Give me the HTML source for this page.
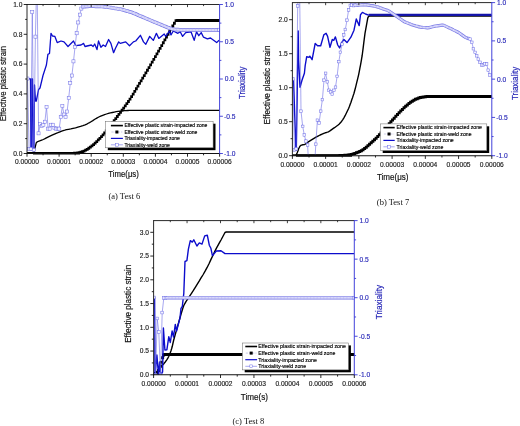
<!DOCTYPE html>
<html><head><meta charset="utf-8"><title>Figure</title>
<style>
html,body{margin:0;padding:0;background:#fff;}
svg{display:block}
.t{font-family:"Liberation Sans",Arial,sans-serif;font-size:6.65px;fill:#1a1a1a;stroke:#1a1a1a;stroke-width:0.15px}
.a{font-family:"Liberation Sans",Arial,sans-serif;font-size:7.8px;fill:#111;stroke:#111;stroke-width:0.18px}
.l{font-family:"Liberation Sans",Arial,sans-serif;font-size:5.05px;fill:#000;stroke:#000;stroke-width:0.15px}
.c{font-family:"Liberation Serif","Times New Roman",serif;font-size:8.5px;fill:#111}
</style></head><body>
<svg width="520" height="426" viewBox="0 0 520 426">
<rect width="520" height="426" fill="#fff"/>
<clipPath id="cpa"><rect x="27" y="4.5" width="192.6" height="149.0"/></clipPath>
<g clip-path="url(#cpa)">
<polyline points="33.5,153.5 34.5,150.0 36.3,142.6 36.5,142.4 36.8,142.2 37.3,141.9 38.0,141.5 39.0,141.1 40.3,140.7 41.7,140.1 43.3,139.5 45.0,138.7 46.9,137.7 48.9,136.7 51.0,135.7 53.2,134.7 55.6,133.6 57.9,132.7 60.0,131.8 61.7,131.1 63.2,130.6 64.8,130.2 66.5,129.7 68.6,129.3 70.8,128.9 73.1,128.4 75.5,127.9 77.9,127.2 80.5,126.4 82.9,125.6 85.1,124.8 86.8,124.1 88.2,123.3 89.5,122.6 91.0,121.7 92.8,120.6 94.8,119.3 96.8,118.1 98.8,117.0 100.7,116.1 102.7,115.3 104.6,114.6 106.5,114.0 108.4,113.4 110.4,112.9 112.4,112.5 114.3,112.1 116.2,111.7 118.1,111.4 120.1,111.1 122.0,110.9 123.9,110.7 125.7,110.6 127.7,110.5 129.8,110.4 132.4,110.4 135.4,110.4 138.1,110.4 140.0,110.4 219.6,110.4" fill="none" stroke="#000" stroke-width="1.3" stroke-linejoin="round" />
<path d="M25.60,152.10H71.20v2.8H25.60zM69.98,152.03h2.8v2.8h-2.8zM71.56,151.96h2.8v2.8h-2.8zM73.15,151.85h2.8v2.8h-2.8zM74.73,151.70h2.8v2.8h-2.8zM76.32,151.49h2.8v2.8h-2.8zM77.90,151.21h2.8v2.8h-2.8zM79.49,150.85h2.8v2.8h-2.8zM81.07,150.32h2.8v2.8h-2.8zM82.66,149.63h2.8v2.8h-2.8zM84.24,148.80h2.8v2.8h-2.8zM85.83,147.89h2.8v2.8h-2.8zM87.41,146.87h2.8v2.8h-2.8zM89.00,145.73h2.8v2.8h-2.8zM90.58,144.49h2.8v2.8h-2.8zM92.17,143.13h2.8v2.8h-2.8zM93.75,141.68h2.8v2.8h-2.8zM95.34,140.15h2.8v2.8h-2.8zM96.92,138.57h2.8v2.8h-2.8zM98.51,136.97h2.8v2.8h-2.8zM100.09,135.29h2.8v2.8h-2.8zM101.68,133.50h2.8v2.8h-2.8zM103.26,131.60h2.8v2.8h-2.8zM104.85,129.62h2.8v2.8h-2.8zM106.43,127.60h2.8v2.8h-2.8zM108.02,125.53h2.8v2.8h-2.8zM109.60,123.45h2.8v2.8h-2.8zM111.19,121.35h2.8v2.8h-2.8zM112.77,119.26h2.8v2.8h-2.8zM114.36,117.18h2.8v2.8h-2.8zM115.94,115.10h2.8v2.8h-2.8zM117.53,113.01h2.8v2.8h-2.8zM119.11,110.90h2.8v2.8h-2.8zM120.70,108.77h2.8v2.8h-2.8zM122.28,106.63h2.8v2.8h-2.8zM123.87,104.49h2.8v2.8h-2.8zM125.45,102.31h2.8v2.8h-2.8zM127.04,100.08h2.8v2.8h-2.8zM128.62,97.75h2.8v2.8h-2.8zM130.21,95.28h2.8v2.8h-2.8zM131.79,92.66h2.8v2.8h-2.8zM133.38,89.99h2.8v2.8h-2.8zM134.96,87.33h2.8v2.8h-2.8zM136.55,84.70h2.8v2.8h-2.8zM138.13,82.07h2.8v2.8h-2.8zM139.72,79.44h2.8v2.8h-2.8zM141.30,76.81h2.8v2.8h-2.8zM142.89,74.16h2.8v2.8h-2.8zM144.47,71.51h2.8v2.8h-2.8zM146.06,68.84h2.8v2.8h-2.8zM147.64,66.14h2.8v2.8h-2.8zM149.23,63.44h2.8v2.8h-2.8zM150.81,60.73h2.8v2.8h-2.8zM152.40,57.97h2.8v2.8h-2.8zM153.98,55.21h2.8v2.8h-2.8zM155.57,52.46h2.8v2.8h-2.8zM157.15,49.69h2.8v2.8h-2.8zM158.74,46.91h2.8v2.8h-2.8zM160.32,44.13h2.8v2.8h-2.8zM161.91,41.35h2.8v2.8h-2.8zM163.49,38.57h2.8v2.8h-2.8zM165.08,35.78h2.8v2.8h-2.8zM166.66,32.99h2.8v2.8h-2.8zM168.25,30.20h2.8v2.8h-2.8zM169.83,27.41h2.8v2.8h-2.8zM171.42,24.62h2.8v2.8h-2.8zM173.00,21.83h2.8v2.8h-2.8zM174.59,19.19h2.8v2.8h-2.8zM176.18,19.10H220.19v2.8H176.18zM217.39,19.10H219.60v2.8H217.39z" fill="#000"/>
<polyline points="27.0,78.9 30.5,78.9 30.8,150.0 31.3,150.0 31.6,79.0 32.5,79.0 33.0,150.0 34.0,148.0 34.5,85.0 35.5,101.0 36.3,101.0 38.6,89.5 40.0,88.0 43.0,75.5 46.4,65.0 47.9,54.3 49.5,53.5 51.0,33.3 52.5,36.0 54.9,36.4 57.2,42.6 61.0,41.0 64.0,41.9 68.0,46.5 73.5,41.0 75.8,45.7 81.0,45.0 83.6,43.4 85.0,46.5 91.3,45.0 93.1,46.5 94.7,44.0 97.0,49.6 98.5,41.0 100.9,47.3 103.2,45.0 105.5,46.5 108.6,39.5 110.9,43.4 113.6,52.7 115.6,48.0 118.7,41.9 120.2,43.4 125.7,41.9 129.5,45.7 133.4,41.9 135.7,41.0 140.4,35.3 143.5,41.9 145.8,44.2 149.7,36.4 153.3,40.4 156.4,33.3 158.8,38.4 164.2,34.0 165.7,36.4 169.4,31.0 171.0,34.9 173.3,31.0 177.9,33.3 180.2,31.8 182.6,36.4 185.7,32.6 191.0,31.8 194.2,40.3 196.5,31.8 198.8,35.7 201.2,32.6 203.5,37.2 207.4,38.8 210.5,38.0 213.6,40.3 216.7,42.6 219.0,40.3" fill="none" stroke="#0c0ccc" stroke-width="1.3" stroke-linejoin="round" />
<polyline points="27.5,78.5 29.1,149.0 30.7,149.0 32.3,12.2 33.8,150.0 35.4,36.6 37.0,-30.0 38.6,133.3 40.2,124.0 41.8,126.0 43.4,124.8 44.9,121.7 46.5,107.0 48.1,128.7 49.7,128.7 51.3,124.8 52.9,124.8 54.4,127.9 56.0,128.7 57.6,128.7 59.2,128.7 60.8,117.0 62.4,106.0 64.0,114.5 65.5,117.0 67.1,111.5 68.7,98.0 70.3,83.0 71.9,75.5 73.5,61.3 75.0,47.0 76.6,33.3 78.2,22.5 79.8,14.7 81.4,8.5 83.0,6.5 84.6,6.4 86.1,6.4 87.7,6.3 89.3,6.2 90.9,6.2 92.5,6.2 94.1,6.2 95.7,6.3 97.2,6.3 98.8,6.3 100.4,6.3 102.0,6.5 103.6,6.7 105.2,6.8 106.7,7.0 108.3,7.2 109.9,7.5 111.5,7.7 113.1,8.0 114.7,8.3 116.3,8.5 117.8,8.8 119.4,9.0 121.0,9.3 122.6,9.8 124.2,10.2 125.8,10.7 127.4,11.1 128.9,11.6 130.5,12.0 132.1,12.5 133.7,13.2 135.3,13.8 136.9,14.5 138.4,15.2 140.0,15.9 141.6,16.5 143.2,17.2 144.8,17.9 146.4,18.6 148.0,19.3 149.5,19.9 151.1,20.6 152.7,21.3 154.3,21.9 155.9,22.6 157.5,23.2 159.1,23.9 160.6,24.5 162.2,25.2 163.8,25.9 165.4,26.5 167.0,27.2 168.6,27.9 170.2,28.3 171.7,28.8 173.3,29.2 174.9,29.6 176.5,29.7 178.1,29.7 179.7,29.8 181.2,29.8 182.8,29.8 184.4,29.8 186.0,29.8 187.6,29.8 189.2,29.8 190.8,29.8 192.3,29.8 193.9,29.8 195.5,29.8 197.1,29.8 198.7,29.8 200.3,29.8 201.9,29.8 203.4,29.8 205.0,29.8 206.6,29.8 208.2,29.8 209.8,29.8 211.4,29.8 212.9,29.8 214.5,29.8 216.1,29.8 217.7,29.8 219.3,29.8" fill="none" stroke="#6c6ce6" stroke-width="0.6" stroke-linejoin="round" />
<rect x="25.9" y="77.0" width="3.1" height="3.1" fill="#f4f4ff" stroke="#6c6ce6" stroke-width="0.5"/><rect x="27.5" y="147.4" width="3.1" height="3.1" fill="#f4f4ff" stroke="#6c6ce6" stroke-width="0.5"/><rect x="29.1" y="147.4" width="3.1" height="3.1" fill="#f4f4ff" stroke="#6c6ce6" stroke-width="0.5"/><rect x="30.7" y="10.6" width="3.1" height="3.1" fill="#f4f4ff" stroke="#6c6ce6" stroke-width="0.5"/><rect x="32.3" y="148.4" width="3.1" height="3.1" fill="#f4f4ff" stroke="#6c6ce6" stroke-width="0.5"/><rect x="33.9" y="35.1" width="3.1" height="3.1" fill="#f4f4ff" stroke="#6c6ce6" stroke-width="0.5"/><rect x="35.5" y="-31.6" width="3.1" height="3.1" fill="#f4f4ff" stroke="#6c6ce6" stroke-width="0.5"/><rect x="37.0" y="131.8" width="3.1" height="3.1" fill="#f4f4ff" stroke="#6c6ce6" stroke-width="0.5"/><rect x="38.6" y="122.5" width="3.1" height="3.1" fill="#f4f4ff" stroke="#6c6ce6" stroke-width="0.5"/><rect x="40.2" y="124.5" width="3.1" height="3.1" fill="#f4f4ff" stroke="#6c6ce6" stroke-width="0.5"/><rect x="41.8" y="123.2" width="3.1" height="3.1" fill="#f4f4ff" stroke="#6c6ce6" stroke-width="0.5"/><rect x="43.4" y="120.2" width="3.1" height="3.1" fill="#f4f4ff" stroke="#6c6ce6" stroke-width="0.5"/><rect x="45.0" y="105.5" width="3.1" height="3.1" fill="#f4f4ff" stroke="#6c6ce6" stroke-width="0.5"/><rect x="46.6" y="127.1" width="3.1" height="3.1" fill="#f4f4ff" stroke="#6c6ce6" stroke-width="0.5"/><rect x="48.1" y="127.1" width="3.1" height="3.1" fill="#f4f4ff" stroke="#6c6ce6" stroke-width="0.5"/><rect x="49.7" y="123.2" width="3.1" height="3.1" fill="#f4f4ff" stroke="#6c6ce6" stroke-width="0.5"/><rect x="51.3" y="123.2" width="3.1" height="3.1" fill="#f4f4ff" stroke="#6c6ce6" stroke-width="0.5"/><rect x="52.9" y="126.4" width="3.1" height="3.1" fill="#f4f4ff" stroke="#6c6ce6" stroke-width="0.5"/><rect x="54.5" y="127.1" width="3.1" height="3.1" fill="#f4f4ff" stroke="#6c6ce6" stroke-width="0.5"/><rect x="56.1" y="127.1" width="3.1" height="3.1" fill="#f4f4ff" stroke="#6c6ce6" stroke-width="0.5"/><rect x="57.7" y="127.1" width="3.1" height="3.1" fill="#f4f4ff" stroke="#6c6ce6" stroke-width="0.5"/><rect x="59.2" y="115.5" width="3.1" height="3.1" fill="#f4f4ff" stroke="#6c6ce6" stroke-width="0.5"/><rect x="60.8" y="104.5" width="3.1" height="3.1" fill="#f4f4ff" stroke="#6c6ce6" stroke-width="0.5"/><rect x="62.4" y="113.0" width="3.1" height="3.1" fill="#f4f4ff" stroke="#6c6ce6" stroke-width="0.5"/><rect x="64.0" y="115.5" width="3.1" height="3.1" fill="#f4f4ff" stroke="#6c6ce6" stroke-width="0.5"/><rect x="65.6" y="110.0" width="3.1" height="3.1" fill="#f4f4ff" stroke="#6c6ce6" stroke-width="0.5"/><rect x="67.2" y="96.5" width="3.1" height="3.1" fill="#f4f4ff" stroke="#6c6ce6" stroke-width="0.5"/><rect x="68.7" y="81.5" width="3.1" height="3.1" fill="#f4f4ff" stroke="#6c6ce6" stroke-width="0.5"/><rect x="70.3" y="74.0" width="3.1" height="3.1" fill="#f4f4ff" stroke="#6c6ce6" stroke-width="0.5"/><rect x="71.9" y="59.8" width="3.1" height="3.1" fill="#f4f4ff" stroke="#6c6ce6" stroke-width="0.5"/><rect x="73.5" y="45.5" width="3.1" height="3.1" fill="#f4f4ff" stroke="#6c6ce6" stroke-width="0.5"/><rect x="75.1" y="31.7" width="3.1" height="3.1" fill="#f4f4ff" stroke="#6c6ce6" stroke-width="0.5"/><rect x="76.7" y="20.9" width="3.1" height="3.1" fill="#f4f4ff" stroke="#6c6ce6" stroke-width="0.5"/><rect x="78.3" y="13.1" width="3.1" height="3.1" fill="#f4f4ff" stroke="#6c6ce6" stroke-width="0.5"/><rect x="79.8" y="7.0" width="3.1" height="3.1" fill="#f4f4ff" stroke="#6c6ce6" stroke-width="0.5"/><rect x="81.4" y="5.0" width="3.1" height="3.1" fill="#f4f4ff" stroke="#6c6ce6" stroke-width="0.5"/><rect x="83.0" y="4.9" width="3.1" height="3.1" fill="#f4f4ff" stroke="#6c6ce6" stroke-width="0.5"/>
<polyline points="84.6,6.4 86.1,6.4 87.7,6.3 89.3,6.2 90.9,6.2 92.5,6.2 94.1,6.2 95.7,6.3 97.2,6.3 98.8,6.3 100.4,6.3 102.0,6.5 103.6,6.7 105.2,6.8 106.7,7.0 108.3,7.2 109.9,7.5 111.5,7.7 113.1,8.0 114.7,8.3 116.3,8.5 117.8,8.8 119.4,9.0 121.0,9.3 122.6,9.8 124.2,10.2 125.8,10.7 127.4,11.1 128.9,11.6 130.5,12.0 132.1,12.5 133.7,13.2 135.3,13.8 136.9,14.5 138.4,15.2 140.0,15.9 141.6,16.5 143.2,17.2 144.8,17.9 146.4,18.6 148.0,19.3 149.5,19.9 151.1,20.6 152.7,21.3 154.3,21.9 155.9,22.6 157.5,23.2 159.1,23.9 160.6,24.5 162.2,25.2 163.8,25.9 165.4,26.5 167.0,27.2 168.6,27.9 170.2,28.3 171.7,28.8 173.3,29.2 174.9,29.6 176.5,29.7 178.1,29.7 179.7,29.8 181.2,29.8 182.8,29.8 184.4,29.8 186.0,29.8 187.6,29.8 189.2,29.8 190.8,29.8 192.3,29.8 193.9,29.8 195.5,29.8 197.1,29.8 198.7,29.8 200.3,29.8 201.9,29.8 203.4,29.8 205.0,29.8 206.6,29.8 208.2,29.8 209.8,29.8 211.4,29.8 212.9,29.8 214.5,29.8 216.1,29.8 217.7,29.8 219.3,29.8" fill="none" stroke="#7474e4" stroke-width="3.7" stroke-linejoin="round" stroke-linecap="butt"/>
<polyline points="84.6,6.4 86.1,6.4 87.7,6.3 89.3,6.2 90.9,6.2 92.5,6.2 94.1,6.2 95.7,6.3 97.2,6.3 98.8,6.3 100.4,6.3 102.0,6.5 103.6,6.7 105.2,6.8 106.7,7.0 108.3,7.2 109.9,7.5 111.5,7.7 113.1,8.0 114.7,8.3 116.3,8.5 117.8,8.8 119.4,9.0 121.0,9.3 122.6,9.8 124.2,10.2 125.8,10.7 127.4,11.1 128.9,11.6 130.5,12.0 132.1,12.5 133.7,13.2 135.3,13.8 136.9,14.5 138.4,15.2 140.0,15.9 141.6,16.5 143.2,17.2 144.8,17.9 146.4,18.6 148.0,19.3 149.5,19.9 151.1,20.6 152.7,21.3 154.3,21.9 155.9,22.6 157.5,23.2 159.1,23.9 160.6,24.5 162.2,25.2 163.8,25.9 165.4,26.5 167.0,27.2 168.6,27.9 170.2,28.3 171.7,28.8 173.3,29.2 174.9,29.6 176.5,29.7 178.1,29.7 179.7,29.8 181.2,29.8 182.8,29.8 184.4,29.8 186.0,29.8 187.6,29.8 189.2,29.8 190.8,29.8 192.3,29.8 193.9,29.8 195.5,29.8 197.1,29.8 198.7,29.8 200.3,29.8 201.9,29.8 203.4,29.8 205.0,29.8 206.6,29.8 208.2,29.8 209.8,29.8 211.4,29.8 212.9,29.8 214.5,29.8 216.1,29.8 217.7,29.8 219.3,29.8" fill="none" stroke="#d8d8fa" stroke-width="2.3" stroke-linejoin="round" stroke-linecap="butt"/>
<path d="M84.6,4.9v3.1M87.7,4.7v3.1M90.9,4.7v3.1M94.1,4.7v3.1M97.2,4.7v3.1M100.4,4.8v3.1M103.6,5.1v3.1M106.7,5.4v3.1M109.9,5.9v3.1M113.1,6.5v3.1M116.3,7.0v3.1M119.4,7.5v3.1M122.6,8.2v3.1M125.8,9.1v3.1M128.9,10.0v3.1M132.1,10.9v3.1M135.3,12.3v3.1M138.4,13.6v3.1M141.6,15.0v3.1M144.8,16.3v3.1M148.0,17.7v3.1M151.1,19.1v3.1M154.3,20.4v3.1M157.5,21.7v3.1M160.6,23.0v3.1M163.8,24.3v3.1M167.0,25.7v3.1M170.2,26.8v3.1M173.3,27.6v3.1M176.5,28.1v3.1M179.7,28.2v3.1M182.8,28.2v3.1M186.0,28.2v3.1M189.2,28.2v3.1M192.3,28.2v3.1M195.5,28.2v3.1M198.7,28.2v3.1M201.9,28.2v3.1M205.0,28.2v3.1M208.2,28.2v3.1M211.4,28.2v3.1M214.5,28.2v3.1M217.7,28.2v3.1" stroke="#a8a8f0" stroke-width="0.35" fill="none"/>
<rect x="217.7" y="28.2" width="3.1" height="3.1" fill="#f4f4ff" stroke="#6c6ce6" stroke-width="0.5"/>
</g>
<path d="M33,153.5H80" stroke="#000" stroke-width="2.2" fill="none"/>
<path d="M27,4.5H219.6" stroke="#111" stroke-width="0.9" fill="none"/>
<path d="M27,4.0V154.0" stroke="#111" stroke-width="0.9" fill="none"/>
<path d="M26.5,153.5H220.1" stroke="#111" stroke-width="1.1" fill="none"/>
<path d="M219.6,4.0V154.0" stroke="#3838d8" stroke-width="0.95" fill="none"/>
<path d="M27.00,153.5v3.2M43.05,153.5v1.8M59.10,153.5v3.2M75.15,153.5v1.8M91.20,153.5v3.2M107.25,153.5v1.8M123.30,153.5v3.2M139.35,153.5v1.8M155.40,153.5v3.2M171.45,153.5v1.8M187.50,153.5v3.2M203.55,153.5v1.8M219.60,153.5v3.2" stroke="#111" stroke-width="0.9" fill="none"/>
<path d="M43.05,4.5v1.6M59.10,4.5v2.6M75.15,4.5v1.6M91.20,4.5v2.6M107.25,4.5v1.6M123.30,4.5v2.6M139.35,4.5v1.6M155.40,4.5v2.6M171.45,4.5v1.6M187.50,4.5v2.6M203.55,4.5v1.6" stroke="#111" stroke-width="0.8" fill="none"/>
<text x="27.00" y="164.4" class="t" text-anchor="middle">0.00000</text>
<text x="59.10" y="164.4" class="t" text-anchor="middle">0.00001</text>
<text x="91.20" y="164.4" class="t" text-anchor="middle">0.00002</text>
<text x="123.30" y="164.4" class="t" text-anchor="middle">0.00003</text>
<text x="155.40" y="164.4" class="t" text-anchor="middle">0.00004</text>
<text x="187.50" y="164.4" class="t" text-anchor="middle">0.00005</text>
<text x="219.60" y="164.4" class="t" text-anchor="middle">0.00006</text>
<text x="22.4" y="155.85" class="t" text-anchor="end">0.0</text>
<text x="22.4" y="126.05" class="t" text-anchor="end">0.2</text>
<text x="22.4" y="96.25" class="t" text-anchor="end">0.4</text>
<text x="22.4" y="66.45" class="t" text-anchor="end">0.6</text>
<text x="22.4" y="36.65" class="t" text-anchor="end">0.8</text>
<text x="22.4" y="6.85" class="t" text-anchor="end">1.0</text>
<path d="M27,153.50h-3.3M27,123.70h-3.3M27,93.90h-3.3M27,64.10h-3.3M27,34.30h-3.3M27,4.50h-3.3M27,138.60h-1.8M27,108.80h-1.8M27,79.00h-1.8M27,49.20h-1.8M27,19.40h-1.8" stroke="#111" stroke-width="0.9" fill="none"/>
<text x="224.8" y="6.85" class="t" style="fill:#2828b8;stroke:#2828b8">1.0</text>
<text x="224.8" y="44.10" class="t" style="fill:#2828b8;stroke:#2828b8">0.5</text>
<text x="224.8" y="81.35" class="t" style="fill:#2828b8;stroke:#2828b8">0.0</text>
<text x="224.0" y="118.60" class="t" style="fill:#2828b8;stroke:#2828b8">-0.5</text>
<text x="224.0" y="155.85" class="t" style="fill:#2828b8;stroke:#2828b8">-1.0</text>
<path d="M219.6,4.50h3.3M219.6,41.75h3.3M219.6,79.00h3.3M219.6,116.25h3.3M219.6,153.50h3.3M219.6,23.12h1.8M219.6,60.38h1.8M219.6,97.62h1.8M219.6,134.88h1.8" stroke="#3838d8" stroke-width="0.9" fill="none"/>
<text x="123.6" y="176.8" class="a" style="font-size:8.2px" text-anchor="middle" textLength="30.5" lengthAdjust="spacingAndGlyphs">Time(μs)</text>
<text transform="translate(6.3,83.6) rotate(-90)" class="a" style="font-size:8.2px" text-anchor="middle" textLength="75.5" lengthAdjust="spacingAndGlyphs">Effective plastic strain</text>
<text transform="translate(245.2,82.8) rotate(-90)" class="a" style="font-size:8.2px;fill:#2828b8;stroke:#2828b8" text-anchor="middle" textLength="32.5" lengthAdjust="spacingAndGlyphs">Triaxiality</text>
<text x="124.3" y="198.7" class="c" text-anchor="middle">(a) Test 6</text>
<rect x="107.80000000000001" y="123.7" width="107.7" height="26.5" fill="#000"/>
<rect x="105.4" y="121.3" width="107.7" height="26.5" fill="#fff" stroke="#666" stroke-width="0.5"/>
<path d="M110.9,125.6H122.9" stroke="#000" stroke-width="1.6"/>
<path d="M111.4,132.0H122.4" stroke="#99c" stroke-width="0.5" stroke-dasharray="2.2,1"/>
<rect x="115.4" y="130.5" width="3" height="3" fill="#000"/>
<path d="M110.9,138.4H122.9" stroke="#0c0ccc" stroke-width="1.2"/>
<path d="M110.9,144.8H122.9" stroke="#6c6ce6" stroke-width="0.6"/>
<rect x="115.5" y="143.4" width="2.8" height="2.8" fill="#fff" stroke="#6c6ce6" stroke-width="0.5"/>
<text x="124.4" y="127.41" class="l" style="font-size:5.03px" textLength="82.9" lengthAdjust="spacingAndGlyphs">Effective plastic strain-impacted zone</text>
<text x="124.4" y="133.81" class="l" style="font-size:5.03px" textLength="72.9" lengthAdjust="spacingAndGlyphs">Effective plastic strain-weld zone</text>
<text x="124.4" y="140.21" class="l" style="font-size:5.03px" textLength="55.4" lengthAdjust="spacingAndGlyphs">Triaxiality-impacted zone</text>
<text x="124.4" y="146.61" class="l" style="font-size:5.03px" textLength="45.4" lengthAdjust="spacingAndGlyphs">Triaxiality-weld zone</text>
<clipPath id="cpb"><rect x="292.4" y="2.6" width="199.40000000000003" height="153.1"/></clipPath>
<g clip-path="url(#cpb)">
<polyline points="295.9,155.7 296.2,155.0 296.6,154.1 297.1,153.0 297.5,152.0 297.9,151.0 298.3,149.9 298.6,148.9 299.0,148.0 299.4,147.3 299.7,146.7 300.1,146.1 300.5,145.7 300.9,145.4 301.4,145.1 301.9,145.0 302.5,144.8 303.1,144.7 303.8,144.6 304.5,144.5 305.2,144.2 305.8,143.8 306.4,143.3 307.2,142.7 308.3,141.9 309.9,140.9 311.9,139.7 314.0,138.4 316.0,137.2 318.0,136.1 320.1,135.0 322.1,134.1 323.8,133.3 325.2,132.8 326.3,132.5 327.3,132.2 328.4,131.8 329.5,131.2 330.6,130.4 331.7,129.6 333.0,128.7 334.5,127.7 336.1,126.5 337.8,125.3 339.3,124.0 340.6,122.6 341.7,121.2 342.8,119.6 343.9,117.8 345.1,115.7 346.3,113.3 347.5,110.8 348.6,108.5 349.5,106.3 350.2,104.3 351.0,102.2 351.7,100.0 352.5,97.8 353.2,95.6 354.0,93.2 354.8,90.3 355.7,86.8 356.7,82.7 357.7,78.6 358.6,74.8 359.3,71.4 359.9,68.2 360.5,65.2 361.0,62.4 361.4,60.1 361.7,58.2 362.1,56.0 362.5,53.0 363.1,48.3 363.8,42.6 364.5,37.1 365.0,33.3 367.8,17.8 368.6,16.4 369.6,16.0 491.8,16.0" fill="none" stroke="#000" stroke-width="1.4" stroke-linejoin="round" />
<path d="M290.90,154.20H339.88v3.0H290.90zM338.52,154.12h3.0v3.0h-3.0zM340.16,154.05h3.0v3.0h-3.0zM341.80,153.97h3.0v3.0h-3.0zM343.44,153.87h3.0v3.0h-3.0zM345.09,153.74h3.0v3.0h-3.0zM346.73,153.57h3.0v3.0h-3.0zM348.37,153.30h3.0v3.0h-3.0zM350.01,152.92h3.0v3.0h-3.0zM351.65,152.45h3.0v3.0h-3.0zM353.30,151.92h3.0v3.0h-3.0zM354.94,151.32h3.0v3.0h-3.0zM356.58,150.66h3.0v3.0h-3.0zM358.22,149.97h3.0v3.0h-3.0zM359.86,149.19h3.0v3.0h-3.0zM361.51,148.21h3.0v3.0h-3.0zM363.15,147.04h3.0v3.0h-3.0zM364.79,145.72h3.0v3.0h-3.0zM366.43,144.31h3.0v3.0h-3.0zM368.07,142.82h3.0v3.0h-3.0zM369.72,141.31h3.0v3.0h-3.0zM371.36,139.77h3.0v3.0h-3.0zM373.00,138.23h3.0v3.0h-3.0zM374.64,136.64h3.0v3.0h-3.0zM376.28,135.01h3.0v3.0h-3.0zM377.93,133.33h3.0v3.0h-3.0zM379.57,131.60h3.0v3.0h-3.0zM381.21,129.80h3.0v3.0h-3.0zM382.85,127.92h3.0v3.0h-3.0zM384.49,126.01h3.0v3.0h-3.0zM386.14,124.10h3.0v3.0h-3.0zM387.78,122.21h3.0v3.0h-3.0zM389.42,120.34h3.0v3.0h-3.0zM391.06,118.48h3.0v3.0h-3.0zM392.70,116.63h3.0v3.0h-3.0zM394.35,114.80h3.0v3.0h-3.0zM395.99,113.03h3.0v3.0h-3.0zM397.63,111.30h3.0v3.0h-3.0zM399.27,109.60h3.0v3.0h-3.0zM400.91,107.94h3.0v3.0h-3.0zM402.56,106.34h3.0v3.0h-3.0zM404.20,104.85h3.0v3.0h-3.0zM405.84,103.44h3.0v3.0h-3.0zM407.48,102.11h3.0v3.0h-3.0zM409.12,100.84h3.0v3.0h-3.0zM410.77,99.70h3.0v3.0h-3.0zM412.41,98.71h3.0v3.0h-3.0zM414.05,97.86h3.0v3.0h-3.0zM415.69,97.14h3.0v3.0h-3.0zM417.33,96.56h3.0v3.0h-3.0zM418.98,96.10h3.0v3.0h-3.0zM420.62,95.71h3.0v3.0h-3.0zM422.26,95.41h3.0v3.0h-3.0zM423.90,95.19h3.0v3.0h-3.0zM425.54,95.09h3.0v3.0h-3.0zM427.19,95.05h3.0v3.0h-3.0zM428.83,95.02h3.0v3.0h-3.0zM430.47,94.99h3.0v3.0h-3.0zM432.11,94.97H438.40v3.0H432.11zM437.04,94.99H492.58v3.0H437.04zM489.58,95.00H491.80v3.0H489.58z" fill="#000"/>
<polyline points="292.4,78.7 293.5,78.7 295.9,150.0 296.3,150.0 298.2,31.0 298.6,60.0 300.0,87.2 302.0,80.2 304.4,73.3 305.2,65.5 306.7,56.6 309.0,57.4 309.8,56.2 312.1,59.7 315.2,43.4 317.6,45.7 320.7,45.7 323.8,34.9 326.1,33.3 327.6,36.4 330.0,47.3 332.3,39.5 333.8,40.3 335.4,36.9 337.7,45.0 339.6,48.0 341.6,42.6 343.9,39.5 347.0,42.6 350.9,37.2 354.0,30.2 356.3,19.0 359.2,25.6 360.5,14.7 362.4,12.4 365.5,14.0 368.6,15.2" fill="none" stroke="#0c0ccc" stroke-width="1.4" stroke-linejoin="round" />
<polyline points="368.6,14.8 491.8,14.8" fill="none" stroke="#1414a8" stroke-width="2.3" stroke-linejoin="round" />
<polyline points="292.8,79.0 294.4,150.0 296.1,148.8 297.7,5.9 299.4,-30.0 301.0,111.2 302.7,126.4 304.3,134.9 305.9,141.1 307.6,145.0 309.2,175.0 310.9,190.0 312.5,190.0 314.1,175.0 315.8,144.2 317.4,120.2 319.1,123.0 320.7,111.2 322.4,99.6 324.0,80.2 325.6,73.3 327.3,81.8 328.9,90.3 330.6,91.9 332.2,94.2 333.9,90.3 335.5,87.2 337.1,76.4 338.8,61.6 340.4,52.3 342.1,44.2 343.7,34.9 345.3,29.5 347.0,20.2 348.6,10.0 350.3,5.4 351.9,5.0 353.6,5.6 355.2,4.8 356.8,5.3 358.5,5.1 360.1,5.0 361.8,4.9 363.4,4.9 365.0,4.8 366.7,4.9 368.3,5.1 370.0,5.4 371.6,5.6 373.3,5.9 374.9,6.3 376.5,6.7 378.2,7.1 379.8,7.7 381.5,8.3 383.1,8.9 384.8,9.5 386.4,10.0 388.0,10.6 389.7,11.5 391.3,12.7 393.0,13.8 394.6,15.0 396.2,16.1 397.9,17.3 399.5,18.4 401.2,19.5 402.8,20.7 404.5,21.8 406.1,22.4 407.7,23.1 409.4,23.7 411.0,24.4 412.7,25.0 414.3,25.5 415.9,26.0 417.6,26.4 419.2,26.9 420.9,27.2 422.5,27.4 424.2,27.5 425.8,27.7 427.4,27.9 429.1,27.6 430.7,27.2 432.4,26.8 434.0,26.4 435.7,26.0 437.3,25.8 438.9,25.6 440.6,25.4 442.2,25.2 443.9,25.4 445.5,26.1 447.1,26.9 448.8,27.7 450.4,28.4 452.1,29.2 453.7,30.1 455.4,30.9 457.0,31.7 458.6,32.5 460.3,33.7 461.9,34.9 463.6,36.1 465.2,37.3 466.9,37.9 468.5,38.5 470.1,39.1 471.8,42.3 473.4,48.7 475.1,52.4 476.7,55.8 478.3,59.1 480.0,62.3 481.6,65.0 483.3,65.3 484.9,63.8 486.6,64.0 488.2,70.2 489.8,75.0" fill="none" stroke="#6c6ce6" stroke-width="0.6" stroke-linejoin="round" />
<rect x="291.5" y="77.7" width="2.6" height="2.6" fill="#f4f4ff" stroke="#6c6ce6" stroke-width="0.5"/><rect x="293.1" y="148.7" width="2.6" height="2.6" fill="#f4f4ff" stroke="#6c6ce6" stroke-width="0.5"/><rect x="294.8" y="147.5" width="2.6" height="2.6" fill="#f4f4ff" stroke="#6c6ce6" stroke-width="0.5"/><rect x="296.4" y="4.6" width="2.6" height="2.6" fill="#f4f4ff" stroke="#6c6ce6" stroke-width="0.5"/><rect x="298.1" y="-31.3" width="2.6" height="2.6" fill="#f4f4ff" stroke="#6c6ce6" stroke-width="0.5"/><rect x="299.7" y="109.9" width="2.6" height="2.6" fill="#f4f4ff" stroke="#6c6ce6" stroke-width="0.5"/><rect x="301.4" y="125.1" width="2.6" height="2.6" fill="#f4f4ff" stroke="#6c6ce6" stroke-width="0.5"/><rect x="303.0" y="133.6" width="2.6" height="2.6" fill="#f4f4ff" stroke="#6c6ce6" stroke-width="0.5"/><rect x="304.6" y="139.8" width="2.6" height="2.6" fill="#f4f4ff" stroke="#6c6ce6" stroke-width="0.5"/><rect x="306.3" y="143.7" width="2.6" height="2.6" fill="#f4f4ff" stroke="#6c6ce6" stroke-width="0.5"/><rect x="307.9" y="173.7" width="2.6" height="2.6" fill="#f4f4ff" stroke="#6c6ce6" stroke-width="0.5"/><rect x="309.6" y="188.7" width="2.6" height="2.6" fill="#f4f4ff" stroke="#6c6ce6" stroke-width="0.5"/><rect x="311.2" y="188.7" width="2.6" height="2.6" fill="#f4f4ff" stroke="#6c6ce6" stroke-width="0.5"/><rect x="312.8" y="173.7" width="2.6" height="2.6" fill="#f4f4ff" stroke="#6c6ce6" stroke-width="0.5"/><rect x="314.5" y="142.9" width="2.6" height="2.6" fill="#f4f4ff" stroke="#6c6ce6" stroke-width="0.5"/><rect x="316.1" y="118.9" width="2.6" height="2.6" fill="#f4f4ff" stroke="#6c6ce6" stroke-width="0.5"/><rect x="317.8" y="121.7" width="2.6" height="2.6" fill="#f4f4ff" stroke="#6c6ce6" stroke-width="0.5"/><rect x="319.4" y="109.9" width="2.6" height="2.6" fill="#f4f4ff" stroke="#6c6ce6" stroke-width="0.5"/><rect x="321.1" y="98.3" width="2.6" height="2.6" fill="#f4f4ff" stroke="#6c6ce6" stroke-width="0.5"/><rect x="322.7" y="78.9" width="2.6" height="2.6" fill="#f4f4ff" stroke="#6c6ce6" stroke-width="0.5"/><rect x="324.3" y="72.0" width="2.6" height="2.6" fill="#f4f4ff" stroke="#6c6ce6" stroke-width="0.5"/><rect x="326.0" y="80.5" width="2.6" height="2.6" fill="#f4f4ff" stroke="#6c6ce6" stroke-width="0.5"/><rect x="327.6" y="89.0" width="2.6" height="2.6" fill="#f4f4ff" stroke="#6c6ce6" stroke-width="0.5"/><rect x="329.3" y="90.6" width="2.6" height="2.6" fill="#f4f4ff" stroke="#6c6ce6" stroke-width="0.5"/><rect x="330.9" y="92.9" width="2.6" height="2.6" fill="#f4f4ff" stroke="#6c6ce6" stroke-width="0.5"/><rect x="332.6" y="89.0" width="2.6" height="2.6" fill="#f4f4ff" stroke="#6c6ce6" stroke-width="0.5"/><rect x="334.2" y="85.9" width="2.6" height="2.6" fill="#f4f4ff" stroke="#6c6ce6" stroke-width="0.5"/><rect x="335.8" y="75.1" width="2.6" height="2.6" fill="#f4f4ff" stroke="#6c6ce6" stroke-width="0.5"/><rect x="337.5" y="60.3" width="2.6" height="2.6" fill="#f4f4ff" stroke="#6c6ce6" stroke-width="0.5"/><rect x="339.1" y="51.0" width="2.6" height="2.6" fill="#f4f4ff" stroke="#6c6ce6" stroke-width="0.5"/><rect x="340.8" y="42.9" width="2.6" height="2.6" fill="#f4f4ff" stroke="#6c6ce6" stroke-width="0.5"/><rect x="342.4" y="33.6" width="2.6" height="2.6" fill="#f4f4ff" stroke="#6c6ce6" stroke-width="0.5"/><rect x="344.0" y="28.2" width="2.6" height="2.6" fill="#f4f4ff" stroke="#6c6ce6" stroke-width="0.5"/><rect x="345.7" y="18.9" width="2.6" height="2.6" fill="#f4f4ff" stroke="#6c6ce6" stroke-width="0.5"/><rect x="347.3" y="8.7" width="2.6" height="2.6" fill="#f4f4ff" stroke="#6c6ce6" stroke-width="0.5"/><rect x="349.0" y="4.1" width="2.6" height="2.6" fill="#f4f4ff" stroke="#6c6ce6" stroke-width="0.5"/><rect x="350.6" y="3.7" width="2.6" height="2.6" fill="#f4f4ff" stroke="#6c6ce6" stroke-width="0.5"/><rect x="352.3" y="4.3" width="2.6" height="2.6" fill="#f4f4ff" stroke="#6c6ce6" stroke-width="0.5"/>
<polyline points="353.6,5.6 355.2,4.8 356.8,5.3 358.5,5.1 360.1,5.0 361.8,4.9 363.4,4.9 365.0,4.8 366.7,4.9 368.3,5.1 370.0,5.4 371.6,5.6 373.3,5.9 374.9,6.3 376.5,6.7 378.2,7.1 379.8,7.7 381.5,8.3 383.1,8.9 384.8,9.5 386.4,10.0 388.0,10.6 389.7,11.5 391.3,12.7 393.0,13.8 394.6,15.0 396.2,16.1 397.9,17.3 399.5,18.4 401.2,19.5 402.8,20.7 404.5,21.8 406.1,22.4 407.7,23.1 409.4,23.7 411.0,24.4 412.7,25.0 414.3,25.5 415.9,26.0 417.6,26.4 419.2,26.9 420.9,27.2 422.5,27.4 424.2,27.5 425.8,27.7 427.4,27.9 429.1,27.6 430.7,27.2 432.4,26.8 434.0,26.4 435.7,26.0 437.3,25.8 438.9,25.6 440.6,25.4 442.2,25.2 443.9,25.4 445.5,26.1 447.1,26.9 448.8,27.7 450.4,28.4 452.1,29.2 453.7,30.1 455.4,30.9 457.0,31.7 458.6,32.5 460.3,33.7 461.9,34.9 463.6,36.1 465.2,37.3 466.9,37.9 468.5,38.5" fill="none" stroke="#7474e4" stroke-width="3.2" stroke-linejoin="round" stroke-linecap="butt"/>
<polyline points="353.6,5.6 355.2,4.8 356.8,5.3 358.5,5.1 360.1,5.0 361.8,4.9 363.4,4.9 365.0,4.8 366.7,4.9 368.3,5.1 370.0,5.4 371.6,5.6 373.3,5.9 374.9,6.3 376.5,6.7 378.2,7.1 379.8,7.7 381.5,8.3 383.1,8.9 384.8,9.5 386.4,10.0 388.0,10.6 389.7,11.5 391.3,12.7 393.0,13.8 394.6,15.0 396.2,16.1 397.9,17.3 399.5,18.4 401.2,19.5 402.8,20.7 404.5,21.8 406.1,22.4 407.7,23.1 409.4,23.7 411.0,24.4 412.7,25.0 414.3,25.5 415.9,26.0 417.6,26.4 419.2,26.9 420.9,27.2 422.5,27.4 424.2,27.5 425.8,27.7 427.4,27.9 429.1,27.6 430.7,27.2 432.4,26.8 434.0,26.4 435.7,26.0 437.3,25.8 438.9,25.6 440.6,25.4 442.2,25.2 443.9,25.4 445.5,26.1 447.1,26.9 448.8,27.7 450.4,28.4 452.1,29.2 453.7,30.1 455.4,30.9 457.0,31.7 458.6,32.5 460.3,33.7 461.9,34.9 463.6,36.1 465.2,37.3 466.9,37.9 468.5,38.5" fill="none" stroke="#d8d8fa" stroke-width="1.8" stroke-linejoin="round" stroke-linecap="butt"/>
<path d="M353.6,4.3v2.6M356.8,4.0v2.6M360.1,3.7v2.6M363.4,3.6v2.6M366.7,3.6v2.6M370.0,4.1v2.6M373.3,4.6v2.6M376.5,5.4v2.6M379.8,6.4v2.6M383.1,7.6v2.6M386.4,8.7v2.6M389.7,10.2v2.6M393.0,12.5v2.6M396.2,14.8v2.6M399.5,17.1v2.6M402.8,19.4v2.6M406.1,21.1v2.6M409.4,22.4v2.6M412.7,23.7v2.6M415.9,24.7v2.6M419.2,25.6v2.6M422.5,26.1v2.6M425.8,26.4v2.6M429.1,26.3v2.6M432.4,25.5v2.6M435.7,24.7v2.6M438.9,24.3v2.6M442.2,23.9v2.6M445.5,24.8v2.6M448.8,26.4v2.6M452.1,27.9v2.6M455.4,29.6v2.6M458.6,31.2v2.6M461.9,33.6v2.6M465.2,36.0v2.6M468.5,37.2v2.6" stroke="#a8a8f0" stroke-width="0.35" fill="none"/>
<rect x="467.2" y="37.2" width="2.6" height="2.6" fill="#f4f4ff" stroke="#6c6ce6" stroke-width="0.5"/><rect x="468.8" y="37.8" width="2.6" height="2.6" fill="#f4f4ff" stroke="#6c6ce6" stroke-width="0.5"/><rect x="470.5" y="41.0" width="2.6" height="2.6" fill="#f4f4ff" stroke="#6c6ce6" stroke-width="0.5"/><rect x="472.1" y="47.4" width="2.6" height="2.6" fill="#f4f4ff" stroke="#6c6ce6" stroke-width="0.5"/><rect x="473.8" y="51.1" width="2.6" height="2.6" fill="#f4f4ff" stroke="#6c6ce6" stroke-width="0.5"/><rect x="475.4" y="54.5" width="2.6" height="2.6" fill="#f4f4ff" stroke="#6c6ce6" stroke-width="0.5"/><rect x="477.0" y="57.8" width="2.6" height="2.6" fill="#f4f4ff" stroke="#6c6ce6" stroke-width="0.5"/><rect x="478.7" y="61.0" width="2.6" height="2.6" fill="#f4f4ff" stroke="#6c6ce6" stroke-width="0.5"/><rect x="480.3" y="63.7" width="2.6" height="2.6" fill="#f4f4ff" stroke="#6c6ce6" stroke-width="0.5"/><rect x="482.0" y="64.0" width="2.6" height="2.6" fill="#f4f4ff" stroke="#6c6ce6" stroke-width="0.5"/><rect x="483.6" y="62.5" width="2.6" height="2.6" fill="#f4f4ff" stroke="#6c6ce6" stroke-width="0.5"/><rect x="485.3" y="62.7" width="2.6" height="2.6" fill="#f4f4ff" stroke="#6c6ce6" stroke-width="0.5"/><rect x="486.9" y="68.9" width="2.6" height="2.6" fill="#f4f4ff" stroke="#6c6ce6" stroke-width="0.5"/><rect x="488.5" y="73.7" width="2.6" height="2.6" fill="#f4f4ff" stroke="#6c6ce6" stroke-width="0.5"/>
</g>
<path d="M296,155.7H352" stroke="#000" stroke-width="2.2" fill="none"/>
<path d="M292.4,2.6H491.8" stroke="#111" stroke-width="0.9" fill="none"/>
<path d="M292.4,2.1V156.2" stroke="#111" stroke-width="0.9" fill="none"/>
<path d="M291.9,155.7H492.3" stroke="#111" stroke-width="1.1" fill="none"/>
<path d="M491.8,2.1V156.2" stroke="#3838d8" stroke-width="0.95" fill="none"/>
<path d="M292.40,155.7v3.2M309.02,155.7v1.8M325.63,155.7v3.2M342.25,155.7v1.8M358.87,155.7v3.2M375.48,155.7v1.8M392.10,155.7v3.2M408.72,155.7v1.8M425.33,155.7v3.2M441.95,155.7v1.8M458.57,155.7v3.2M475.18,155.7v1.8M491.80,155.7v3.2" stroke="#111" stroke-width="0.9" fill="none"/>
<path d="M309.02,2.6v1.6M325.63,2.6v2.6M342.25,2.6v1.6M358.87,2.6v2.6M375.48,2.6v1.6M392.10,2.6v2.6M408.72,2.6v1.6M425.33,2.6v2.6M441.95,2.6v1.6M458.57,2.6v2.6M475.18,2.6v1.6" stroke="#111" stroke-width="0.8" fill="none"/>
<text x="292.40" y="166.6" class="t" text-anchor="middle">0.00000</text>
<text x="325.63" y="166.6" class="t" text-anchor="middle">0.00001</text>
<text x="358.87" y="166.6" class="t" text-anchor="middle">0.00002</text>
<text x="392.10" y="166.6" class="t" text-anchor="middle">0.00003</text>
<text x="425.33" y="166.6" class="t" text-anchor="middle">0.00004</text>
<text x="458.57" y="166.6" class="t" text-anchor="middle">0.00005</text>
<text x="491.80" y="166.6" class="t" text-anchor="middle">0.00006</text>
<text x="287.8" y="158.05" class="t" text-anchor="end">0.0</text>
<text x="287.8" y="124.05" class="t" text-anchor="end">0.5</text>
<text x="287.8" y="90.05" class="t" text-anchor="end">1.0</text>
<text x="287.8" y="56.05" class="t" text-anchor="end">1.5</text>
<text x="287.8" y="22.05" class="t" text-anchor="end">2.0</text>
<path d="M292.4,155.70h-3.3M292.4,121.70h-3.3M292.4,87.70h-3.3M292.4,53.70h-3.3M292.4,19.70h-3.3M292.4,138.70h-1.8M292.4,104.70h-1.8M292.4,70.70h-1.8M292.4,36.70h-1.8" stroke="#111" stroke-width="0.9" fill="none"/>
<text x="497.0" y="4.95" class="t" style="fill:#2828b8;stroke:#2828b8">1.0</text>
<text x="497.0" y="43.23" class="t" style="fill:#2828b8;stroke:#2828b8">0.5</text>
<text x="497.0" y="81.50" class="t" style="fill:#2828b8;stroke:#2828b8">0.0</text>
<text x="496.2" y="119.77" class="t" style="fill:#2828b8;stroke:#2828b8">-0.5</text>
<text x="496.2" y="158.05" class="t" style="fill:#2828b8;stroke:#2828b8">-1.0</text>
<path d="M491.8,2.60h3.3M491.8,40.88h3.3M491.8,79.15h3.3M491.8,117.42h3.3M491.8,155.70h3.3M491.8,21.74h1.8M491.8,60.01h1.8M491.8,98.29h1.8M491.8,136.56h1.8" stroke="#3838d8" stroke-width="0.9" fill="none"/>
<text x="392.7" y="180.3" class="a" style="font-size:8.6px" text-anchor="middle" textLength="31.5" lengthAdjust="spacingAndGlyphs">Time(μs)</text>
<text transform="translate(270.4,85) rotate(-90)" class="a" style="font-size:8.6px" text-anchor="middle" textLength="78.9" lengthAdjust="spacingAndGlyphs">Effective plastic strain</text>
<text transform="translate(518.2,83.4) rotate(-90)" class="a" style="font-size:8.6px;fill:#2828b8;stroke:#2828b8" text-anchor="middle" textLength="33.2" lengthAdjust="spacingAndGlyphs">Triaxiality</text>
<text x="393" y="204.6" class="c" text-anchor="middle">(b) Test 7</text>
<rect x="382.7" y="126.30000000000001" width="106.5" height="26.7" fill="#000"/>
<rect x="380.3" y="123.9" width="106.5" height="26.7" fill="#fff" stroke="#666" stroke-width="0.5"/>
<path d="M383.40000000000003,127.60000000000001H394.7" stroke="#000" stroke-width="1.6"/>
<path d="M383.90000000000003,134.0H394.2" stroke="#99c" stroke-width="0.5" stroke-dasharray="2.2,1"/>
<rect x="387.55" y="132.5" width="3" height="3" fill="#000"/>
<path d="M383.40000000000003,140.4H394.7" stroke="#0c0ccc" stroke-width="1.2"/>
<path d="M383.40000000000003,146.8H394.7" stroke="#6c6ce6" stroke-width="0.6"/>
<rect x="387.65000000000003" y="145.4" width="2.8" height="2.8" fill="#fff" stroke="#6c6ce6" stroke-width="0.5"/>
<text x="396.6" y="129.46" class="l" style="font-size:5.18px" textLength="85.4" lengthAdjust="spacingAndGlyphs">Effective plastic strain-impacted zone</text>
<text x="396.6" y="135.86" class="l" style="font-size:5.18px" textLength="75.0" lengthAdjust="spacingAndGlyphs">Effective plastic strain-weld zone</text>
<text x="396.6" y="142.26" class="l" style="font-size:5.18px" textLength="57.1" lengthAdjust="spacingAndGlyphs">Triaxiality-impacted zone</text>
<text x="396.6" y="148.66" class="l" style="font-size:5.18px" textLength="46.7" lengthAdjust="spacingAndGlyphs">Triaxiality-weld zone</text>
<clipPath id="cpc"><rect x="153.6" y="220.6" width="200.70000000000002" height="154.20000000000002"/></clipPath>
<g clip-path="url(#cpc)">
<polyline points="154.5,374.8 154.9,374.3 155.5,373.7 156.2,372.9 157.0,372.0 157.8,371.0 158.6,369.9 159.5,368.7 160.5,367.5 161.6,366.2 162.8,364.8 164.1,363.4 165.2,362.0 166.2,360.6 167.1,359.3 168.0,357.9 168.8,356.3 169.6,354.6 170.2,352.9 170.9,351.0 171.6,348.8 172.3,346.3 172.9,343.5 173.6,340.5 174.4,337.5 175.3,334.4 176.2,331.1 177.1,327.7 178.1,324.4 179.1,321.0 180.1,317.5 181.0,314.2 181.9,311.3 182.6,309.1 183.1,307.4 183.7,305.8 184.7,303.8 186.1,301.4 187.8,298.9 189.6,296.1 191.5,293.3 193.4,290.4 195.3,287.3 197.3,284.1 199.3,280.9 201.2,277.7 203.2,274.5 205.1,271.2 207.0,267.7 209.0,263.7 211.0,259.4 213.0,255.2 214.8,251.4 216.6,247.9 218.4,244.7 219.9,241.9 221.0,240.0 225.0,232.5 226.3,232.0 354.3,232.0" fill="none" stroke="#000" stroke-width="1.4" stroke-linejoin="round" />
<path d="M152.10,373.30h3.0v3.0h-3.0zM153.10,372.66h3.0v3.0h-3.0zM154.10,372.03h3.0v3.0h-3.0zM155.10,371.39h3.0v3.0h-3.0zM156.10,370.75h3.0v3.0h-3.0zM157.10,369.10h3.0v3.0h-3.0zM158.10,366.77h3.0v3.0h-3.0zM159.10,364.43h3.0v3.0h-3.0zM160.10,360.80h3.0v3.0h-3.0zM161.10,356.30h3.0v3.0h-3.0zM162.10,353.54h3.0v3.0h-3.0zM163.10,352.90H355.10v3.0H163.10zM352.10,352.90H354.30v3.0H352.10z" fill="#000"/>
<polyline points="153.6,297.5 154.6,297.5 155.0,375.0 156.9,355.0 158.5,375.0 159.6,362.0 160.8,375.0 162.6,372.0 163.4,328.0 164.9,350.0 166.9,349.7 168.8,336.6 170.3,342.5 172.1,331.0 173.5,337.0 175.3,324.4 176.6,331.0 180.0,317.8 181.0,308.4 182.3,306.5 183.8,293.3 185.0,261.5 186.9,260.7 188.4,249.1 190.3,240.6 192.3,242.1 193.8,239.8 196.9,246.0 199.3,242.9 202.0,244.1 204.7,235.9 207.3,235.2 209.3,245.2 210.9,248.3 212.4,255.6 216.3,251.0 221.0,250.7 225.0,253.6 354.3,253.6" fill="none" stroke="#0c0ccc" stroke-width="1.4" stroke-linejoin="round" />
<polyline points="153.9,297.5 155.6,375.0 157.2,318.5 158.8,332.0 160.5,375.0 162.2,312.6 163.8,298.0 165.5,297.9 167.1,297.8 168.8,297.8 170.4,297.8 172.1,297.8 173.7,297.8 175.4,297.8 177.0,297.8 178.7,297.8 180.3,297.8 182.0,297.8 183.6,297.8 185.3,297.8 186.9,297.8 188.6,297.8 190.2,297.8 191.9,297.8 193.5,297.8 195.2,297.8 196.8,297.8 198.5,297.8 200.1,297.8 201.8,297.8 203.4,297.8 205.1,297.8 206.7,297.8 208.4,297.8 210.0,297.8 211.7,297.8 213.3,297.8 215.0,297.8 216.6,297.8 218.3,297.8 219.9,297.8 221.6,297.8 223.2,297.8 224.9,297.8 226.5,297.8 228.2,297.8 229.8,297.8 231.5,297.8 233.1,297.8 234.8,297.8 236.4,297.8 238.1,297.8 239.7,297.8 241.4,297.8 243.0,297.8 244.7,297.8 246.3,297.8 248.0,297.8 249.6,297.8 251.3,297.8 252.9,297.8 254.6,297.8 256.2,297.8 257.9,297.8 259.5,297.8 261.2,297.8 262.8,297.8 264.5,297.8 266.1,297.8 267.8,297.8 269.4,297.8 271.1,297.8 272.7,297.8 274.4,297.8 276.0,297.8 277.7,297.8 279.3,297.8 280.9,297.8 282.6,297.8 284.2,297.8 285.9,297.8 287.5,297.8 289.2,297.8 290.8,297.8 292.5,297.8 294.1,297.8 295.8,297.8 297.4,297.8 299.1,297.8 300.7,297.8 302.4,297.8 304.0,297.8 305.7,297.8 307.3,297.8 309.0,297.8 310.6,297.8 312.3,297.8 313.9,297.8 315.6,297.8 317.2,297.8 318.9,297.8 320.5,297.8 322.2,297.8 323.8,297.8 325.5,297.8 327.1,297.8 328.8,297.8 330.4,297.8 332.1,297.8 333.7,297.8 335.4,297.8 337.0,297.8 338.7,297.8 340.3,297.8 342.0,297.8 343.6,297.8 345.3,297.8 346.9,297.8 348.6,297.8 350.2,297.8 351.9,297.8 353.5,297.8" fill="none" stroke="#6c6ce6" stroke-width="0.6" stroke-linejoin="round" />
<rect x="152.6" y="296.1" width="2.7" height="2.7" fill="#f4f4ff" stroke="#6c6ce6" stroke-width="0.5"/><rect x="154.2" y="373.6" width="2.7" height="2.7" fill="#f4f4ff" stroke="#6c6ce6" stroke-width="0.5"/><rect x="155.9" y="317.1" width="2.7" height="2.7" fill="#f4f4ff" stroke="#6c6ce6" stroke-width="0.5"/><rect x="157.5" y="330.6" width="2.7" height="2.7" fill="#f4f4ff" stroke="#6c6ce6" stroke-width="0.5"/><rect x="159.2" y="373.6" width="2.7" height="2.7" fill="#f4f4ff" stroke="#6c6ce6" stroke-width="0.5"/><rect x="160.8" y="311.2" width="2.7" height="2.7" fill="#f4f4ff" stroke="#6c6ce6" stroke-width="0.5"/><rect x="162.5" y="296.6" width="2.7" height="2.7" fill="#f4f4ff" stroke="#6c6ce6" stroke-width="0.5"/><rect x="164.1" y="296.5" width="2.7" height="2.7" fill="#f4f4ff" stroke="#6c6ce6" stroke-width="0.5"/>
<polyline points="165.5,297.9 167.1,297.8 168.8,297.8 170.4,297.8 172.1,297.8 173.7,297.8 175.4,297.8 177.0,297.8 178.7,297.8 180.3,297.8 182.0,297.8 183.6,297.8 185.3,297.8 186.9,297.8 188.6,297.8 190.2,297.8 191.9,297.8 193.5,297.8 195.2,297.8 196.8,297.8 198.5,297.8 200.1,297.8 201.8,297.8 203.4,297.8 205.1,297.8 206.7,297.8 208.4,297.8 210.0,297.8 211.7,297.8 213.3,297.8 215.0,297.8 216.6,297.8 218.3,297.8 219.9,297.8 221.6,297.8 223.2,297.8 224.9,297.8 226.5,297.8 228.2,297.8 229.8,297.8 231.5,297.8 233.1,297.8 234.8,297.8 236.4,297.8 238.1,297.8 239.7,297.8 241.4,297.8 243.0,297.8 244.7,297.8 246.3,297.8 248.0,297.8 249.6,297.8 251.3,297.8 252.9,297.8 254.6,297.8 256.2,297.8 257.9,297.8 259.5,297.8 261.2,297.8 262.8,297.8 264.5,297.8 266.1,297.8 267.8,297.8 269.4,297.8 271.1,297.8 272.7,297.8 274.4,297.8 276.0,297.8 277.7,297.8 279.3,297.8 280.9,297.8 282.6,297.8 284.2,297.8 285.9,297.8 287.5,297.8 289.2,297.8 290.8,297.8 292.5,297.8 294.1,297.8 295.8,297.8 297.4,297.8 299.1,297.8 300.7,297.8 302.4,297.8 304.0,297.8 305.7,297.8 307.3,297.8 309.0,297.8 310.6,297.8 312.3,297.8 313.9,297.8 315.6,297.8 317.2,297.8 318.9,297.8 320.5,297.8 322.2,297.8 323.8,297.8 325.5,297.8 327.1,297.8 328.8,297.8 330.4,297.8 332.1,297.8 333.7,297.8 335.4,297.8 337.0,297.8 338.7,297.8 340.3,297.8 342.0,297.8 343.6,297.8 345.3,297.8 346.9,297.8 348.6,297.8 350.2,297.8 351.9,297.8 353.5,297.8" fill="none" stroke="#7474e4" stroke-width="3.3000000000000003" stroke-linejoin="round" stroke-linecap="butt"/>
<polyline points="165.5,297.9 167.1,297.8 168.8,297.8 170.4,297.8 172.1,297.8 173.7,297.8 175.4,297.8 177.0,297.8 178.7,297.8 180.3,297.8 182.0,297.8 183.6,297.8 185.3,297.8 186.9,297.8 188.6,297.8 190.2,297.8 191.9,297.8 193.5,297.8 195.2,297.8 196.8,297.8 198.5,297.8 200.1,297.8 201.8,297.8 203.4,297.8 205.1,297.8 206.7,297.8 208.4,297.8 210.0,297.8 211.7,297.8 213.3,297.8 215.0,297.8 216.6,297.8 218.3,297.8 219.9,297.8 221.6,297.8 223.2,297.8 224.9,297.8 226.5,297.8 228.2,297.8 229.8,297.8 231.5,297.8 233.1,297.8 234.8,297.8 236.4,297.8 238.1,297.8 239.7,297.8 241.4,297.8 243.0,297.8 244.7,297.8 246.3,297.8 248.0,297.8 249.6,297.8 251.3,297.8 252.9,297.8 254.6,297.8 256.2,297.8 257.9,297.8 259.5,297.8 261.2,297.8 262.8,297.8 264.5,297.8 266.1,297.8 267.8,297.8 269.4,297.8 271.1,297.8 272.7,297.8 274.4,297.8 276.0,297.8 277.7,297.8 279.3,297.8 280.9,297.8 282.6,297.8 284.2,297.8 285.9,297.8 287.5,297.8 289.2,297.8 290.8,297.8 292.5,297.8 294.1,297.8 295.8,297.8 297.4,297.8 299.1,297.8 300.7,297.8 302.4,297.8 304.0,297.8 305.7,297.8 307.3,297.8 309.0,297.8 310.6,297.8 312.3,297.8 313.9,297.8 315.6,297.8 317.2,297.8 318.9,297.8 320.5,297.8 322.2,297.8 323.8,297.8 325.5,297.8 327.1,297.8 328.8,297.8 330.4,297.8 332.1,297.8 333.7,297.8 335.4,297.8 337.0,297.8 338.7,297.8 340.3,297.8 342.0,297.8 343.6,297.8 345.3,297.8 346.9,297.8 348.6,297.8 350.2,297.8 351.9,297.8 353.5,297.8" fill="none" stroke="#d8d8fa" stroke-width="1.9000000000000001" stroke-linejoin="round" stroke-linecap="butt"/>
<path d="M165.5,296.5v2.7M168.8,296.4v2.7M172.1,296.4v2.7M175.4,296.4v2.7M178.7,296.4v2.7M182.0,296.4v2.7M185.3,296.4v2.7M188.6,296.4v2.7M191.9,296.4v2.7M195.2,296.4v2.7M198.5,296.4v2.7M201.8,296.4v2.7M205.1,296.4v2.7M208.4,296.4v2.7M211.7,296.4v2.7M215.0,296.4v2.7M218.3,296.4v2.7M221.6,296.4v2.7M224.9,296.4v2.7M228.2,296.4v2.7M231.5,296.4v2.7M234.8,296.4v2.7M238.1,296.4v2.7M241.4,296.4v2.7M244.7,296.4v2.7M248.0,296.4v2.7M251.3,296.4v2.7M254.6,296.4v2.7M257.9,296.4v2.7M261.2,296.4v2.7M264.5,296.4v2.7M267.8,296.4v2.7M271.1,296.4v2.7M274.4,296.4v2.7M277.7,296.4v2.7M280.9,296.4v2.7M284.2,296.4v2.7M287.5,296.4v2.7M290.8,296.4v2.7M294.1,296.4v2.7M297.4,296.4v2.7M300.7,296.4v2.7M304.0,296.4v2.7M307.3,296.4v2.7M310.6,296.4v2.7M313.9,296.4v2.7M317.2,296.4v2.7M320.5,296.4v2.7M323.8,296.4v2.7M327.1,296.4v2.7M330.4,296.4v2.7M333.7,296.4v2.7M337.0,296.4v2.7M340.3,296.4v2.7M343.6,296.4v2.7M346.9,296.4v2.7M350.2,296.4v2.7M353.5,296.4v2.7" stroke="#a8a8f0" stroke-width="0.35" fill="none"/>
<rect x="352.2" y="296.4" width="2.7" height="2.7" fill="#f4f4ff" stroke="#6c6ce6" stroke-width="0.5"/>
</g>
<path d="M153.6,220.6H354.3" stroke="#111" stroke-width="0.9" fill="none"/>
<path d="M153.6,220.1V375.3" stroke="#111" stroke-width="0.9" fill="none"/>
<path d="M153.1,374.8H354.8" stroke="#111" stroke-width="1.1" fill="none"/>
<path d="M354.3,220.1V375.3" stroke="#3838d8" stroke-width="0.95" fill="none"/>
<path d="M153.60,374.8v3.2M170.32,374.8v1.8M187.05,374.8v3.2M203.78,374.8v1.8M220.50,374.8v3.2M237.22,374.8v1.8M253.95,374.8v3.2M270.68,374.8v1.8M287.40,374.8v3.2M304.12,374.8v1.8M320.85,374.8v3.2M337.58,374.8v1.8M354.30,374.8v3.2" stroke="#111" stroke-width="0.9" fill="none"/>
<path d="M170.32,220.6v1.6M187.05,220.6v2.6M203.78,220.6v1.6M220.50,220.6v2.6M237.22,220.6v1.6M253.95,220.6v2.6M270.68,220.6v1.6M287.40,220.6v2.6M304.12,220.6v1.6M320.85,220.6v2.6M337.58,220.6v1.6" stroke="#111" stroke-width="0.8" fill="none"/>
<text x="153.60" y="385.7" class="t" text-anchor="middle">0.00000</text>
<text x="187.05" y="385.7" class="t" text-anchor="middle">0.00001</text>
<text x="220.50" y="385.7" class="t" text-anchor="middle">0.00002</text>
<text x="253.95" y="385.7" class="t" text-anchor="middle">0.00003</text>
<text x="287.40" y="385.7" class="t" text-anchor="middle">0.00004</text>
<text x="320.85" y="385.7" class="t" text-anchor="middle">0.00005</text>
<text x="354.30" y="385.7" class="t" text-anchor="middle">0.00006</text>
<text x="149.0" y="377.15" class="t" text-anchor="end">0.0</text>
<text x="149.0" y="353.40" class="t" text-anchor="end">0.5</text>
<text x="149.0" y="329.65" class="t" text-anchor="end">1.0</text>
<text x="149.0" y="305.90" class="t" text-anchor="end">1.5</text>
<text x="149.0" y="282.15" class="t" text-anchor="end">2.0</text>
<text x="149.0" y="258.40" class="t" text-anchor="end">2.5</text>
<text x="149.0" y="234.65" class="t" text-anchor="end">3.0</text>
<path d="M153.6,374.80h-3.3M153.6,351.05h-3.3M153.6,327.30h-3.3M153.6,303.55h-3.3M153.6,279.80h-3.3M153.6,256.05h-3.3M153.6,232.30h-3.3M153.6,362.93h-1.8M153.6,339.18h-1.8M153.6,315.43h-1.8M153.6,291.68h-1.8M153.6,267.93h-1.8M153.6,244.18h-1.8" stroke="#111" stroke-width="0.9" fill="none"/>
<text x="359.5" y="222.95" class="t" style="fill:#2828b8;stroke:#2828b8">1.0</text>
<text x="359.5" y="261.50" class="t" style="fill:#2828b8;stroke:#2828b8">0.5</text>
<text x="359.5" y="300.05" class="t" style="fill:#2828b8;stroke:#2828b8">0.0</text>
<text x="358.7" y="338.60" class="t" style="fill:#2828b8;stroke:#2828b8">-0.5</text>
<text x="358.7" y="377.15" class="t" style="fill:#2828b8;stroke:#2828b8">-1.0</text>
<path d="M354.3,220.60h3.3M354.3,259.15h3.3M354.3,297.70h3.3M354.3,336.25h3.3M354.3,374.80h3.3M354.3,239.88h1.8M354.3,278.43h1.8M354.3,316.98h1.8M354.3,355.52h1.8" stroke="#3838d8" stroke-width="0.9" fill="none"/>
<text x="254.4" y="399.6" class="a" style="font-size:8.6px" text-anchor="middle" textLength="27.2" lengthAdjust="spacingAndGlyphs">Time(s)</text>
<text transform="translate(131.1,303.8) rotate(-90)" class="a" style="font-size:8.6px" text-anchor="middle" textLength="78" lengthAdjust="spacingAndGlyphs">Effective plastic strain</text>
<text transform="translate(381.7,302.1) rotate(-90)" class="a" style="font-size:8.6px;fill:#2828b8;stroke:#2828b8" text-anchor="middle" textLength="34.5" lengthAdjust="spacingAndGlyphs">Triaxiality</text>
<text x="248.4" y="424.3" class="c" text-anchor="middle">(c) Test 8</text>
<rect x="244.70000000000002" y="345.4" width="106.2" height="26.9" fill="#000"/>
<rect x="242.3" y="343.0" width="106.2" height="26.9" fill="#fff" stroke="#666" stroke-width="0.5"/>
<path d="M245.3,346.5H257.1" stroke="#000" stroke-width="1.6"/>
<path d="M245.8,353.1H256.6" stroke="#99c" stroke-width="0.5" stroke-dasharray="2.2,1"/>
<rect x="249.70000000000002" y="351.6" width="3" height="3" fill="#000"/>
<path d="M245.3,359.7H257.1" stroke="#0c0ccc" stroke-width="1.2"/>
<path d="M245.3,366.3H257.1" stroke="#6c6ce6" stroke-width="0.6"/>
<rect x="249.8" y="364.90000000000003" width="2.8" height="2.8" fill="#fff" stroke="#6c6ce6" stroke-width="0.5"/>
<text x="258.3" y="348.42" class="l" style="font-size:5.32px" textLength="87.7" lengthAdjust="spacingAndGlyphs">Effective plastic strain-impacted zone</text>
<text x="258.3" y="355.02" class="l" style="font-size:5.32px" textLength="77.1" lengthAdjust="spacingAndGlyphs">Effective plastic strain-weld zone</text>
<text x="258.3" y="361.62" class="l" style="font-size:5.32px" textLength="58.6" lengthAdjust="spacingAndGlyphs">Triaxiality-impacted zone</text>
<text x="258.3" y="368.22" class="l" style="font-size:5.32px" textLength="48.0" lengthAdjust="spacingAndGlyphs">Triaxiality-weld zone</text>
</svg>
</body></html>
